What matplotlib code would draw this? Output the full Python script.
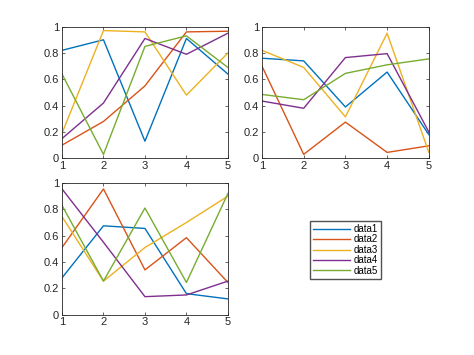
import matplotlib.pyplot as plt

plt.rcParams["font.family"] = ["Liberation Sans", "DejaVu Sans"]

x = [1, 2, 3, 4, 5]
labels = ["data1", "data2", "data3", "data4", "data5"]
colors = ["#0072BD", "#D95319", "#EDB120", "#7E2F8E", "#77AC30"]

# subplot 1 (top left)
top_left = [
    [0.82, 0.90, 0.13, 0.91, 0.64],
    [0.10, 0.28, 0.55, 0.96, 0.965],
    [0.19, 0.97, 0.96, 0.48, 0.80],
    [0.15, 0.42, 0.91, 0.79, 0.95],
    [0.64, 0.03, 0.85, 0.93, 0.69],
]

# subplot 2 (top right)
top_right = [
    [0.76, 0.74, 0.39, 0.655, 0.18],
    [0.70, 0.03, 0.275, 0.045, 0.095],
    [0.82, 0.69, 0.315, 0.95, 0.045],
    [0.435, 0.38, 0.765, 0.795, 0.20],
    [0.485, 0.445, 0.645, 0.71, 0.755],
]

# subplot 3 (bottom left)
bottom_left = [
    [0.28, 0.675, 0.655, 0.16, 0.12],
    [0.51, 0.955, 0.34, 0.585, 0.245],
    [0.745, 0.255, 0.51, 0.70, 0.90],
    [0.955, 0.55, 0.137, 0.15, 0.255],
    [0.83, 0.255, 0.81, 0.245, 0.92],
]

y_ticks = [0, 0.2, 0.4, 0.6, 0.8, 1]
y_tick_labels = ["0", "0.2", "0.4", "0.6", "0.8", "1"]

fig = plt.figure(figsize=(4.74, 3.55), dpi=100)

positions = [
    [0.1308, 0.554, 0.350, 0.371],
    [0.5527, 0.554, 0.352, 0.371],
    [0.1308, 0.1135, 0.350, 0.371],
]

axis_color = "#262626"
lines = []
for pos, data in zip(positions, [top_left, top_right, bottom_left]):
    ax = fig.add_axes(pos)
    for series, color, label in zip(data, colors, labels):
        (line,) = ax.plot(x, series, color=color, linewidth=1.0, label=label)
        lines.append(line)
    ax.set_xlim(1, 5)
    ax.set_ylim(0, 1)
    ax.set_xticks(x)
    ax.set_yticks(y_ticks)
    ax.set_yticklabels(y_tick_labels)
    ax.tick_params(direction="in", length=2.5, width=0.5, labelsize=8,
                   colors=axis_color, top=True, right=True, pad=2)
    for spine in ax.spines.values():
        spine.set_color(axis_color)
        spine.set_linewidth(0.6)

fig.legend(
    lines[:5],
    labels,
    loc="center",
    bbox_to_anchor=(0.729, 0.296),
    fontsize=7,
    frameon=True,
    fancybox=False,
    edgecolor=axis_color,
    handlelength=3.8,
    handletextpad=0.35,
    labelspacing=0.05,
    borderpad=0.3,
    borderaxespad=0,
)

fig.savefig("out.png", dpi=100)
